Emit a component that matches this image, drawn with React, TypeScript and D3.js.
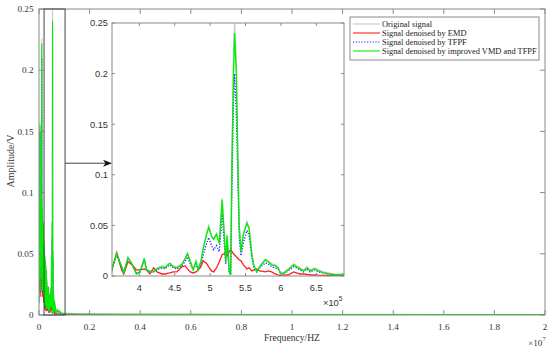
import React from 'react';
import * as d3 from 'd3';

// frequency grids in kHz
const lowFreq = d3.range(0, 360, 10);
const zoomFreq = [361, 368, 375, 378, 384, 390, 396, 401, 407, 410, 415, 420, 425, 432, 436, 443, 448, 453, 460, 465,
  468, 472, 476, 480, 483, 487, 490, 495, 498, 502, 505, 509, 513, 517, 520, 522, 524, 527, 529, 531,
  533, 534.5, 537, 539, 541, 543.5, 547, 552, 555, 559, 562, 566, 570, 578, 582, 587, 592, 596, 599, 603,
  610, 618, 622, 627, 632, 637, 641, 648, 653, 660, 667, 674, 683, 690];
const tailFreq = [700, 730, 760, 800, 850, 900, 1000, 1500, 2500, 4000, 6000, 8000, 10000, 12000, 14000, 16000, 18000, 20000];

// amplitudes (V)
const lowOriginal = [0.012, 0.063, 0.032, 0.093, 0.158, 0.043, 0.088, 0.022, 0.095, 0.052, 0.083, 0.226, 0.032, 0.09, 0.022, 0.072, 0.032, 0.077,
  0.017, 0.062, 0.022, 0.057, 0.012, 0.05, 0.01, 0.047, 0.012, 0.042, 0.007, 0.037, 0.012, 0.03, 0.007, 0.024, 0.01, 0.02];
const lowEmd = [0.018, 0.05, 0.02, 0.085, 0.06, 0.03, 0.07, 0.015, 0.06, 0.03, 0.05, 0.04, 0.02, 0.05, 0.015, 0.04, 0.02, 0.035,
  0.01, 0.03, 0.01, 0.025, 0.005, 0.02, 0.004, 0.018, 0.005, 0.015, 0.003, 0.012, 0.005, 0.01, 0.003, 0.009, 0.004, 0.008];
const lowTfpf = [0.01, 0.058, 0.028, 0.088, 0.15, 0.038, 0.082, 0.019, 0.088, 0.048, 0.077, 0.21, 0.028, 0.084, 0.019, 0.066, 0.028, 0.071,
  0.014, 0.057, 0.019, 0.052, 0.009, 0.045, 0.007, 0.042, 0.009, 0.037, 0.005, 0.032, 0.009, 0.026, 0.005, 0.02, 0.007, 0.016];
const lowVmd = [0.01, 0.06, 0.03, 0.09, 0.155, 0.04, 0.085, 0.02, 0.092, 0.05, 0.08, 0.222, 0.03, 0.088, 0.02, 0.07, 0.03, 0.075,
  0.015, 0.06, 0.02, 0.055, 0.01, 0.048, 0.008, 0.045, 0.01, 0.04, 0.005, 0.035, 0.01, 0.028, 0.005, 0.022, 0.008, 0.018];

const zoomOriginal = [0.007, 0.023, 0.010, 0.004, 0.019, 0.012, 0.003, 0.005, 0.018, 0.007, 0.005, 0.005, 0.008, 0.010, 0.009, 0.013, 0.010, 0.009, 0.012, 0.018,
  0.023, 0.015, 0.007, 0.015, 0.007, 0.015, 0.027, 0.042, 0.050, 0.040, 0.037, 0.042, 0.033, 0.077, 0.042, 0.015, 0.041, 0.005, 0.002, 0.125,
  0.21, 0.25, 0.21, 0.125, 0.052, 0.025, 0.042, 0.054, 0.048, 0.022, 0.010, 0.005, 0.010, 0.017, 0.015, 0.012, 0.011, 0.009, 0.004, 0.003,
  0.007, 0.012, 0.010, 0.008, 0.006, 0.009, 0.006, 0.008, 0.006, 0.004, 0.003, 0.002, 0.0015, 0.0025];
const zoomEmd = [0.005, 0.023, 0.006, 0.002, 0.014, 0.011, 0.006, 0.006, 0.007, 0.006, 0.002, 0.008, 0.004, 0.002, 0.002, 0.003, 0.004, 0.004, 0.009, 0.010,
  0.007, 0.004, 0.003, 0.004, 0.006, 0.009, 0.015, 0.0125, 0.009, 0.005, 0.004, 0.008, 0.014, 0.021, 0.022, 0.021, 0.020, 0.024, 0.026, 0.024,
  0.022, 0.021, 0.019, 0.0175, 0.016, 0.015, 0.011, 0.007, 0.008, 0.005, 0.006, 0.007, 0.005, 0.004, 0.005, 0.004, 0.002, 0.001, 0.0005, 0.0008,
  0.001, 0.004, 0.003, 0.002, 0.002, 0.0015, 0.001, 0.001, 0.0008, 0.0007, 0.0005, 0.0005, 0.0003, 0.0003];
const zoomTfpf = [0.006, 0.021, 0.009, 0.003, 0.017, 0.011, 0.002, 0.004, 0.016, 0.006, 0.004, 0.004, 0.006, 0.008, 0.007, 0.011, 0.008, 0.007, 0.010, 0.015,
  0.019, 0.012, 0.006, 0.012, 0.006, 0.012, 0.02, 0.032, 0.038, 0.03, 0.026, 0.03, 0.024, 0.062, 0.032, 0.012, 0.03, 0.004, 0.001, 0.1,
  0.17, 0.2, 0.16, 0.1, 0.04, 0.02, 0.033, 0.045, 0.04, 0.018, 0.008, 0.004, 0.008, 0.013, 0.012, 0.009, 0.008, 0.007, 0.003, 0.002,
  0.005, 0.009, 0.008, 0.006, 0.004, 0.007, 0.004, 0.006, 0.004, 0.003, 0.002, 0.0015, 0.001, 0.002];
const zoomVmd = [0.006, 0.022, 0.009, 0.003, 0.018, 0.011, 0.002, 0.004, 0.017, 0.006, 0.004, 0.004, 0.007, 0.009, 0.008, 0.0125, 0.009, 0.008, 0.011, 0.0175,
  0.022, 0.014, 0.006, 0.014, 0.006, 0.014, 0.026, 0.041, 0.048, 0.039, 0.036, 0.041, 0.032, 0.075, 0.041, 0.014, 0.040, 0.004, 0.001, 0.12,
  0.2, 0.24, 0.2, 0.12, 0.05, 0.024, 0.041, 0.052, 0.047, 0.021, 0.009, 0.004, 0.009, 0.016, 0.014, 0.011, 0.010, 0.008, 0.003, 0.002,
  0.006, 0.011, 0.009, 0.007, 0.005, 0.008, 0.005, 0.007, 0.005, 0.003, 0.002, 0.0015, 0.001, 0.002];

const tailOriginal = [0.004, 0.005, 0.003, 0.004, 0.003, 0.002, 0.0015, 0.001, 0.0008, 0.0007, 0.0006, 0.0006, 0.0005, 0.0005, 0.0005, 0.0004, 0.0004, 0.0004];
const tailEmd = [0.0005, 0.001, 0.0008, 0.001, 0.0006, 0.0005, 0.0004, 0.0003, 0.0003, 0.0002, 0.0002, 0.0002, 0.0002, 0.0002, 0.0002, 0.0002, 0.0002, 0.0002];
const tailTfpf = [0.002, 0.003, 0.0015, 0.0025, 0.0015, 0.001, 0.0008, 0.0006, 0.0005, 0.0004, 0.0004, 0.0003, 0.0003, 0.0003, 0.0003, 0.0003, 0.0003, 0.0003];
const tailVmd = [0.003, 0.004, 0.002, 0.003, 0.002, 0.0015, 0.001, 0.0008, 0.0006, 0.0005, 0.0005, 0.0004, 0.0004, 0.0004, 0.0003, 0.0003, 0.0003, 0.0003];

const seriesNames = ['Original signal', 'Signal denoised by EMD', 'Signal denoised by TFPF', 'Signal denoised by improved VMD and TFPF'];
const seriesColors = ['#c8c8c8', '#ff2020', '#2020ff', '#00ee00'];

const mainXTicks = [0, 0.2, 0.4, 0.6, 0.8, 1, 1.2, 1.4, 1.6, 1.8, 2]; // x 1e7
const yTicks = [0, 0.05, 0.1, 0.15, 0.2, 0.25];
const zoomXTicks = [4, 4.5, 5, 5.5, 6, 6.5]; // x 1e5

const freqHz = [...lowFreq, ...zoomFreq, ...tailFreq].map(k => k * 1000);
const series = [
  [...lowOriginal, ...zoomOriginal, ...tailOriginal],
  [...lowEmd, ...zoomEmd, ...tailEmd],
  [...lowTfpf, ...zoomTfpf, ...tailTfpf],
  [...lowVmd, ...zoomVmd, ...tailVmd],
];

const serif = '"Liberation Serif", "Times New Roman", serif';
const sans = '"Liberation Sans", Arial, sans-serif';
const axisColor = '#8a8a8a';
const textColor = '#333';

const App: React.FC = () => {
  const main = { l: 39, r: 545, t: 9, b: 315 };
  const ins = { l: 112, r: 344, t: 23, b: 276 };

  const xMain = d3.scaleLinear().domain([0, 2e7]).range([main.l, main.r]);
  const yMain = d3.scaleLinear().domain([0, 0.25]).range([main.b, main.t]);
  const xIns = d3.scaleLinear().domain([3.614e5, 6.891e5]).range([ins.l, ins.r]);
  const yIns = d3.scaleLinear().domain([0, 0.25]).range([ins.b, ins.t]);

  const mainLine = d3.line<number>().x((_, i) => xMain(freqHz[i])).y(d => yMain(d));
  const insLine = d3.line<number>().x((_, i) => xIns(freqHz[i])).y(d => yIns(d));

  const lineStyle = (i: number) => ({
    stroke: seriesColors[i],
    strokeWidth: 1.1,
    strokeDasharray: i === 2 ? '1.2,1.6' : undefined,
    fill: 'none',
  });

  // zoom box and arrow
  const boxL = xMain(2e5), boxR = xMain(1.03e6);
  const arrowY = yMain(0.124);

  const legendX = 350, legendY = 17;
  const rowYs = [24, 33, 42, 51];

  return (
    <svg width={550} height={351} style={{ position: 'absolute', left: 0, top: 0, background: '#fff' }}>
      <defs>
        <clipPath id="clipMain"><rect x={main.l} y={main.t - 2} width={main.r - main.l} height={main.b - main.t + 2} /></clipPath>
        <clipPath id="clipIns"><rect x={ins.l} y={ins.t} width={ins.r - ins.l} height={ins.b - ins.t} /></clipPath>
      </defs>

      {/* main axes */}
      <g clipPath="url(#clipMain)">
        {series.map((s, i) => <path key={i} d={mainLine(s) || ''} {...lineStyle(i)} />)}
      </g>
      <rect x={main.l} y={main.t} width={main.r - main.l} height={main.b - main.t} fill="none" stroke={axisColor} />
      {mainXTicks.map(t => (
        <g key={t}>
          <line x1={xMain(t * 1e7)} x2={xMain(t * 1e7)} y1={main.b} y2={main.b - 5} stroke={axisColor} />
          <line x1={xMain(t * 1e7)} x2={xMain(t * 1e7)} y1={main.t} y2={main.t + 5} stroke={axisColor} />
          <text x={xMain(t * 1e7)} y={330} textAnchor="middle" fontFamily={serif} fontSize={9.2} fill={textColor}>{String(t)}</text>
        </g>
      ))}
      {yTicks.map(t => (
        <g key={t}>
          <line x1={main.l} x2={main.l + 5} y1={yMain(t)} y2={yMain(t)} stroke={axisColor} />
          <line x1={main.r} x2={main.r - 5} y1={yMain(t)} y2={yMain(t)} stroke={axisColor} />
          <text x={33.5} y={yMain(t) + 3.2} textAnchor="end" fontFamily={serif} fontSize={9.2} fill={textColor}>{String(t)}</text>
        </g>
      ))}
      <text x={292} y={341} textAnchor="middle" fontFamily={serif} fontSize={9.6} fill={textColor}>Frequency/HZ</text>
      <text transform={`translate(14,161) rotate(-90)`} textAnchor="middle" fontFamily={serif} fontSize={10} fill={textColor}>Amplitude/V</text>
      <text x={528} y={346} fontFamily={serif} fontSize={9.2} fill={textColor}>×10<tspan dy={-5} fontSize={6.5}>7</tspan></text>

      {/* zoom box + arrow */}
      <rect x={boxL} y={main.t} width={boxR - boxL} height={main.b - main.t} fill="none" stroke="#444" strokeWidth={1} />
      <line x1={boxR} x2={ins.l - 6} y1={arrowY} y2={arrowY} stroke="#444" />
      <polygon points={`${ins.l},${arrowY} ${ins.l - 9},${arrowY - 3.5} ${ins.l - 6.5},${arrowY} ${ins.l - 9},${arrowY + 3.5}`} fill="#111" />

      {/* inset axes */}
      <rect x={ins.l} y={ins.t} width={ins.r - ins.l} height={ins.b - ins.t} fill="#fff" />
      <g clipPath="url(#clipIns)">
        {series.map((s, i) => <path key={i} d={insLine(s) || ''} {...lineStyle(i)} strokeWidth={1.3} />)}
      </g>
      <rect x={ins.l} y={ins.t} width={ins.r - ins.l} height={ins.b - ins.t} fill="none" stroke={axisColor} />
      {zoomXTicks.map(t => (
        <g key={t}>
          <line x1={xIns(t * 1e5)} x2={xIns(t * 1e5)} y1={ins.b} y2={ins.b - 3} stroke={axisColor} />
          <line x1={xIns(t * 1e5)} x2={xIns(t * 1e5)} y1={ins.t} y2={ins.t + 3} stroke={axisColor} />
          <text x={xIns(t * 1e5)} y={291} textAnchor="middle" fontFamily={sans} fontSize={9.3} fill={textColor}>{String(t)}</text>
        </g>
      ))}
      {yTicks.map(t => (
        <g key={t}>
          <line x1={ins.l} x2={ins.l + 3} y1={yIns(t)} y2={yIns(t)} stroke={axisColor} />
          <line x1={ins.r} x2={ins.r - 3} y1={yIns(t)} y2={yIns(t)} stroke={axisColor} />
          <text x={108} y={yIns(t) + 3.3} textAnchor="end" fontFamily={sans} fontSize={9.3} fill={textColor}>{String(t)}</text>
        </g>
      ))}
      <text x={323} y={306} fontFamily={sans} fontSize={9.3} fill={textColor}>×10<tspan dy={-5} fontSize={6.5}>5</tspan></text>

      {/* legend */}
      <rect x={legendX} y={legendY} width={189} height={43} fill="#fff" stroke={axisColor} />
      {seriesNames.map((name, i) => (
        <g key={name}>
          <line x1={353} x2={380} y1={rowYs[i]} y2={rowYs[i]} {...lineStyle(i)} />
          <text x={382} y={rowYs[i] + 3} fontFamily={serif} fontSize={8.4} fill="#222">{name}</text>
        </g>
      ))}
    </svg>
  );
};

export default App;
